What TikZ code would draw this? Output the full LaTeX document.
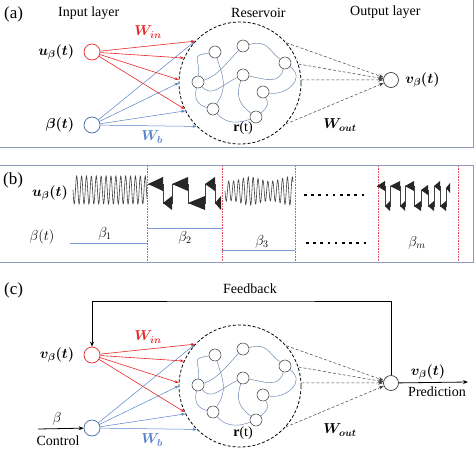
\documentclass[tikz,border=0pt]{standalone}
\usepackage{fontspec}
\setmainfont{Liberation Serif}
\usepackage{amsmath,bm}
\usetikzlibrary{arrows.meta, positioning, calc}
\definecolor{InRed}{RGB}{232, 40, 40}
\definecolor{InBlue}{RGB}{88, 130, 204}
\definecolor{LinkBlue}{RGB}{118, 146, 186}
\definecolor{FrameGray}{RGB}{140, 155, 185}
\definecolor{CutRed}{RGB}{228, 80, 100}

\begin{document}
\begin{tikzpicture}[
    x=1pt, y=-1pt,
    font=\fontsize{14}{16}\selectfont,
    unit/.style={circle, draw, fill=white, minimum size=16pt, inner sep=0pt, line width=0.7pt},
    neuron/.style={circle, draw=black!75, fill=white, minimum size=12pt, inner sep=0pt, line width=0.55pt},
    pool/.style={circle, draw, densely dashed, line width=0.8pt, minimum size=122pt, inner sep=0pt},
    inarrow/.style={-{Stealth[length=4pt, width=3pt]}, InRed, line width=0.6pt},
    barrow/.style={-{Stealth[length=4pt, width=3pt]}, InBlue, line width=0.5pt},
    outarrow/.style={-{Stealth[length=5pt, width=3.5pt]}, black!75, densely dashed, line width=0.5pt},
    arrow/.style={-{Stealth[length=5pt, width=4pt]}, line width=0.8pt},
    link/.style={LinkBlue, line width=0.55pt},
    panel/.style={FrameGray, line width=1pt},
    cut/.style={CutRed, densely dotted, line width=0.6pt},
    wave/.style={black!75, line width=0.6pt},
    dots/.style={line width=2.6pt, dash pattern=on 2.6pt off 4.6pt},
    level/.style={InBlue!80, line width=0.8pt},
    heading/.style={anchor=west, inner sep=0pt}
]
\useasboundingbox (0,0) rectangle (474,453);

% Panel frames
\draw[panel] (-2,147) -- (473,147) -- (473,-2);
\draw[panel] (-2,165) rectangle (473,262);

% Networks (a) and (c)
\foreach \p/\cy in {A/83, C/386} {
    \node[pool] (res\p) at (240,\cy) {};
    \node[unit, draw=InRed] (top\p) at (92,\cy-31) {};
    \node[unit, draw=InBlue!80!black] (bot\p) at (92,\cy+42) {};
    \node[unit, draw=black!75, minimum size=15pt] (out\p) at (391,\cy-3) {};

    % reservoir units
    \foreach \n/\dx/\dy in {1/-25/-31, 2/3/-37, 3/45/-20, 4/-42/-1, 5/3/-8, 6/23/9, 7/-27/26, 8/16/34}
        \node[neuron] (n\p\n) at ($(res\p)+(\dx,\dy)$) {};

    % recurrent links
    \draw[link] (n\p1) .. controls +(-25,4) and +(2,-25) .. (n\p4);
    \draw[link] (n\p1) .. controls +(8,25) and +(15,-22) .. (n\p7);
    \draw[link] (n\p2) .. controls +(-14,14) and +(20,-6) .. (n\p4);
    \draw[link] (n\p2) .. controls +(25,-6) and +(-18,-14) .. (n\p3);
    \draw[link] (n\p3) .. controls +(-6,22) and +(22,4) .. (n\p5);
    \draw[link] (n\p3) .. controls +(22,16) and +(22,4) .. (n\p6);
    \draw[link] (n\p4) .. controls +(14,16) and +(-22,10) .. (n\p5);
    \draw[link] (n\p4) .. controls +(-4,16) and +(-16,-4) .. (n\p7);
    \draw[link] (n\p5) .. controls +(-8,22) and +(-16,-12) .. (n\p8);
    \draw[link] (n\p6) .. controls +(6,12) and +(12,-10) .. (n\p8);
    \draw[link] (n\p7) .. controls +(14,16) and +(-16,6) .. (n\p8);

    % input and output weights
    \foreach \a in {137,180,207,225}
        \draw[barrow] (bot\p) -- (res\p.\a);
    \foreach \a in {137,156,177,205}
        \draw[inarrow] (top\p) -- (res\p.\a);
    \foreach \a in {41,18,3,-42}
        \draw[outarrow] (res\p.\a) -- (out\p);
}

% (a) labels
\node[heading] (tagA) at (4,14) {\fontsize{17}{19}\selectfont (a)};
\node[heading] (inlayer) at (58,13) {Input layer};
\node[heading] (reslabel) at (231,13) {Reservoir};
\node[heading] (outlayer) at (350,12) {Output layer};
\node[left=6pt of topA] (uA) {$\boldsymbol{u_{\beta}(t)}$};
\node[left=6pt of botA] (betaA) {$\boldsymbol{\beta(t)}$};
\node[right=3pt of outA] (vA) {$\boldsymbol{v_{\beta}(t)}$};
\node[text=InRed] (winA) at (148,32) {$\boldsymbol{W_{in}}$};
\node[text=InBlue] (wbA) at (152,137) {$\boldsymbol{W_{b}}$};
\node (rA) at (243,128) {$\mathbf{r}$(t)};
\node (woutA) at (340,125) {$\boldsymbol{W_{out}}$};

% (b) time series
\node[heading] (tagB) at (3,180) {\fontsize{17}{19}\selectfont (b)};
\node (uB) at (50,193) {$\boldsymbol{u_{\beta}(t)}$};
\node (betaB) at (42,237) {$\beta(t)$};
\foreach \x in {147,222,295,378,458}
    \draw[cut] (\x,166) -- (\x,261);
\draw[wave] plot[domain=73:147, samples=220] (\x, {190+14*sin(73.5*(\x-73))});
\draw[wave] plot[domain=225:293, samples=220] (\x, {191+14*sin(73.5*(\x-225))*(0.85+0.15*sin(9*\x))});
\draw[wave] (148,184) -- (163,184) -- (163,203) -- (172,203) -- (172,184) -- (188,184) -- (188,203) -- (205,203) -- (205,184) -- (215,184) -- (215,203) -- (221,203);
\foreach \a/\b/\y in {148/163/184, 163/172/203, 172/188/184, 188/205/203, 205/215/184, 215/221/203}
    \fill[black!85] (\a,\y) -- (\b,\y-7) -- (\b,\y+7) -- cycle;
\draw[wave] (377,186) -- (385,186) -- (385,206) -- (390,206) -- (390,186) -- (400,186) -- (400,206) -- (405,206) -- (405,186) -- (414,186) -- (414,206) -- (421,206) -- (421,190) -- (428,190) -- (428,206) -- (434,206) -- (434,186) -- (440,186) -- (440,206) -- (446,206) -- (446,188) -- (450,188);
\foreach \a/\b/\y in {377/385/186, 385/390/206, 390/400/186, 400/405/206, 405/414/186, 414/421/206, 421/428/190, 428/434/206, 434/440/186, 440/446/206, 446/450/188}
    \fill[black!85] (\a,\y) -- (\b,\y-5) -- (\b,\y+5) -- cycle;
\draw[dots] (304,195) -- (366,195);
\draw[dots] (306,243) -- (368,243);
\draw[level] (70,243) -- (147,243);
\draw[level] (147,228) -- (222,228);
\draw[level] (222,250) -- (295,250);
\node (b1) at (105,234) {$\beta_1$};
\node (b2) at (185,238) {$\beta_2$};
\node (b3) at (262,242) {$\beta_3$};
\node (bm) at (417,243) {$\beta_m$};

% (c) labels and feedback
\node[heading] (tagC) at (4,290) {\fontsize{17}{19}\selectfont (c)};
\node (fbtext) at (250,289) {Feedback};
\coordinate (fb) at (240,301);
\draw[arrow] (outC.north) |- (fb) -| (topC.north);
\node[left=6pt of topC] (vC) {$\boldsymbol{v_{\beta}(t)}$};
\coordinate (ctrl) at (38,429);
\draw[arrow] (ctrl) -- (botC);
\node (betaC) at (57,419) {$\beta$};
\node (control) at (58,441) {Control};
\coordinate (pred) at (468,382);
\draw[arrow] (outC) -- (pred);
\node (vpred) at (428,372) {$\boldsymbol{v_{\beta}(t)}$};
\node (predtext) at (437,392) {Prediction};
\node[text=InRed] (winC) at (148,337) {$\boldsymbol{W_{in}}$};
\node[text=InBlue] (wbC) at (152,440) {$\boldsymbol{W_{b}}$};
\node (rC) at (243,433) {$\mathbf{r}$(t)};
\node (woutC) at (340,430) {$\boldsymbol{W_{out}}$};

\end{tikzpicture}
\end{document}
